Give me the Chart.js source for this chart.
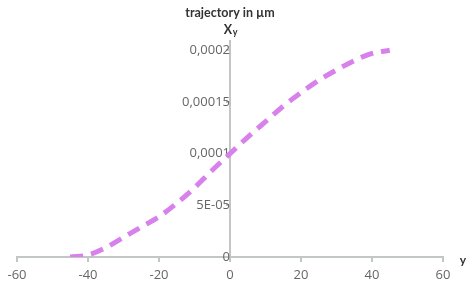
<!DOCTYPE html>
<html>
<head>
<meta charset="utf-8">
<script src="https://cdn.jsdelivr.net/npm/chart.js@4"></script>
<style>
  html, body { margin: 0; padding: 0; background: #fff; }
  #wrap { width: 474px; height: 284px; position: relative; }
</style>
</head>
<body>
<div id="wrap"><canvas id="c"></canvas></div>
<script>
const xValues = [-45, -40, -35, -30, -25, -20, -15, -10, -5, 0, 5, 10, 15, 20, 25, 30, 35, 40, 45];
const yValues = [0, 0.000002, 0.000009, 0.000019, 0.000029, 0.000039, 0.000052, 0.000067, 0.000084, 0.0001,
                 0.000116, 0.000131, 0.000146, 0.000159, 0.000171, 0.000181, 0.00019, 0.000197, 0.0002];
const yTickValues = [0, 0.00005, 0.0001, 0.00015, 0.0002];
const yTickLabels = ['0', '5E-05', '0,0001', '0,00015', '0,0002'];
const xTickValues = [-60, -40, -20, 0, 20, 40, 60];

const AXIS = '#c2c6c6';
const FONT = "'Open Sans', Lato, sans-serif";
const TITLE_FONT = "Lato, 'Open Sans', sans-serif";

const labelsPlugin = {
  id: 'labels',
  afterDraw(chart) {
    const c = chart.ctx;
    const xs = chart.scales.x, ys = chart.scales.y;
    const x0 = xs.getPixelForValue(0);
    c.save();
    c.fillStyle = '#333';
    c.textAlign = 'center';
    c.textBaseline = 'middle';
    c.font = 'bold 12.5px ' + TITLE_FONT;
    c.fillText('trajectory in µm', x0, 13);
    c.fillText('X', x0 - 2, 30);
    c.font = 'bold 9px ' + TITLE_FONT;
    c.fillText('y', x0 + 5, 32);
    c.font = 'bold 12px ' + TITLE_FONT;
    c.fillText('y', 463, ys.getPixelForValue(0) + 3);
    c.restore();
  }
};

new Chart(document.getElementById('c'), {
  type: 'scatter',
  data: {
    datasets: [{
      data: xValues.map((x, i) => ({ x: x, y: yValues[i] })),
      showLine: true,
      borderColor: '#d880ec',
      borderWidth: 5,
      borderDash: [13, 8],
      pointRadius: 0,
      tension: 0.4,
      cubicInterpolationMode: 'monotone',
      fill: false,
    }]
  },
  options: {
    responsive: true,
    maintainAspectRatio: false,
    animation: false,
    layout: { padding: { left: 17, right: 31, top: 41, bottom: 27 } },
    plugins: { legend: { display: false }, tooltip: { enabled: false } },
    scales: {
      x: {
        type: 'linear',
        position: { y: 0 },
        min: -60, max: 60,
        afterBuildTicks: s => { s.ticks = xTickValues.map(v => ({ value: v })); },
        afterFit: s => { s.height = 0; },
        border: { color: AXIS, width: 2 },
        grid: { drawOnChartArea: false, drawTicks: true, tickLength: 4, color: AXIS, lineWidth: 2 },
        ticks: { color: '#666', font: { family: FONT, size: 13 }, padding: 6, maxRotation: 0 }
      },
      y: {
        type: 'linear',
        position: { x: 0 },
        min: 0, max: 0.000209,
        afterBuildTicks: s => { s.ticks = yTickValues.map(v => ({ value: v })); },
        afterFit: s => { s.width = 0; },
        border: { color: AXIS, width: 2 },
        grid: { drawOnChartArea: false, drawTicks: true, tickLength: 3, color: AXIS, lineWidth: 2 },
        ticks: {
          color: '#666', font: { family: FONT, size: 13 }, padding: 5,
          callback: v => yTickLabels[yTickValues.indexOf(v)]
        }
      }
    }
  },
  plugins: [labelsPlugin]
});
</script>
</body>
</html>
